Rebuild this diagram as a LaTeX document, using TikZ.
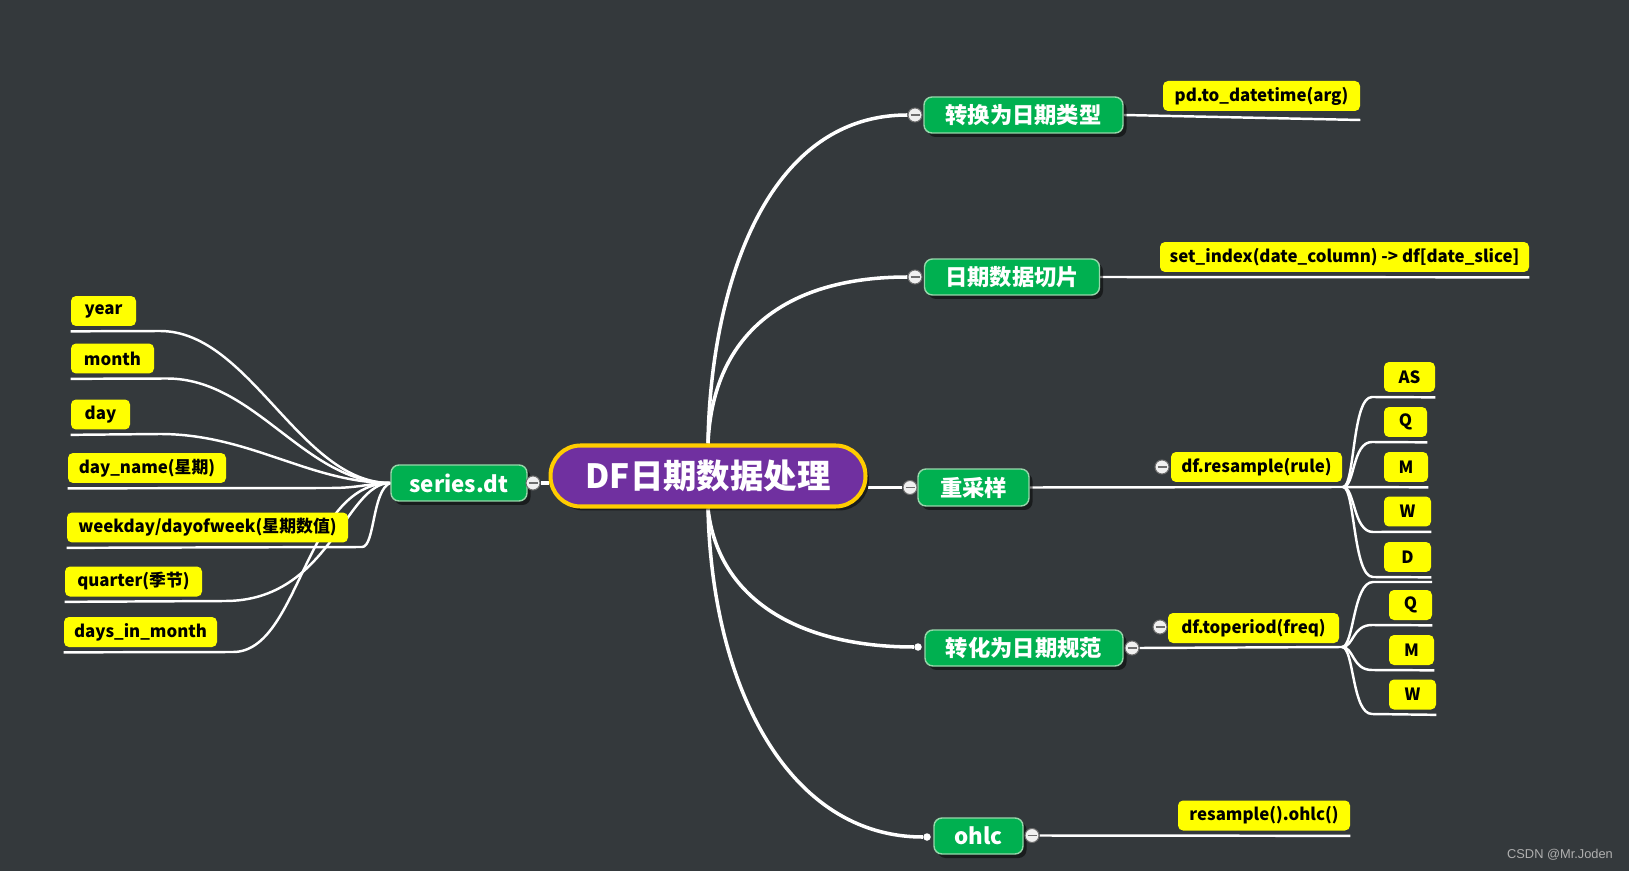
\documentclass[tikz,border=0pt]{standalone}
\usepackage{fontspec}
\setmainfont{Noto Sans CJK SC}
\newfontfamily\wmfont{Liberation Sans}
\usepackage{tikz}
\usetikzlibrary{shadows}

\definecolor{bgdark}{RGB}{52,57,60}
\definecolor{rootpurple}{RGB}{112,48,160}
\definecolor{rootgold}{RGB}{255,204,0}
\definecolor{topicgreen}{RGB}{0,176,80}
\definecolor{topicedge}{RGB}{150,215,170}
\definecolor{leafyellow}{RGB}{255,255,0}
\definecolor{foldgray}{RGB}{110,110,110}
\definecolor{wmgray}{RGB}{175,175,175}

\pgfdeclarelayer{canvas}
\pgfdeclarelayer{wires}
\pgfsetlayers{canvas,wires,main}

\tikzset{
    rootbox/.style={draw=rootgold, line width=2.3pt, fill=rootpurple, rounded corners=0.6cm,
        text=white, font=\fontsize{19}{19}\selectfont\bfseries,
        minimum width=6.3cm, minimum height=1.22cm, inner sep=0pt,
        drop shadow={shadow xshift=0.07cm, shadow yshift=-0.08cm, opacity=0.5, fill=black}},
    topicbox/.style={draw=topicedge, line width=0.8pt, fill=topicgreen, rounded corners=0.16cm,
        text=white, font=\fontsize{12.7}{13}\selectfont\bfseries,
        minimum height=0.72cm, inner sep=0pt,
        drop shadow={shadow xshift=0.07cm, shadow yshift=-0.08cm, opacity=0.5, fill=black}},
    leafbox/.style={fill=leafyellow, rounded corners=0.1cm, text=black,
        font=\fontsize{9.6}{10}\selectfont\bfseries, minimum height=0.6cm, inner sep=0pt},
    wd/.style={minimum width=#1*0.02cm},
    foldmark/.style={circle, draw=foldgray, line width=0.6pt, fill=white!88!gray,
        minimum size=0.28cm, inner sep=0pt,
        path picture={\draw[foldgray, line width=1pt]
            ([xshift=-0.09cm]path picture bounding box.center) --
            ([xshift=0.09cm]path picture bounding box.center);}},
    joint/.style={circle, fill=white, minimum size=0.15cm, inner sep=0pt},
    mainline/.style={draw=white, line width=2pt},
    subline/.style={draw=white, line width=1.4pt},
}

\begin{document}
\begin{tikzpicture}[x=0.02cm, y=-0.02cm]
    \begin{pgfonlayer}{canvas}
        \fill[bgdark] (0,0) rectangle (1629,871);
    \end{pgfonlayer}

    % centre and topics
    \node[rootbox] (root) at (708,476) {DF日期数据处理};
    \node[topicbox, wd=136] (sdt) at (459,483) {series.dt};
    \node[topicbox, wd=199] (t1) at (1023.5,115) {转换为日期类型};
    \node[topicbox, wd=175] (t2) at (1012,277) {日期数据切片};
    \node[topicbox, wd=111, minimum height=0.74cm] (t3) at (973.5,487.5) {重采样};
    \node[topicbox, wd=198] (t4) at (1024,648) {转化为日期规范};
    \node[topicbox, wd=89] (t5) at (978.5,836) {ohlc};

    % right leaves
    \node[leafbox, wd=197] (l1) at (1261.5,96) {pd.to\_datetime(arg)};
    \node[leafbox, wd=369] (l2) at (1344.5,257) {set\_index(date\_column) -> df[date\_slice]};
    \node[leafbox, wd=171] (rs) at (1256.5,467) {df.resample(rule)};
    \node[leafbox, wd=51] (as) at (1409.5,377) {AS};
    \node[leafbox, wd=43] (rq) at (1405.5,422) {Q};
    \node[leafbox, wd=44] (rm) at (1406,467) {M};
    \node[leafbox, wd=47] (rw) at (1407.5,511.5) {W};
    \node[leafbox, wd=47] (rd) at (1407.5,557) {D};
    \node[leafbox, wd=171] (tp) at (1253.5,628) {df.toperiod(freq)};
    \node[leafbox, wd=43] (pq) at (1410.5,605) {Q};
    \node[leafbox, wd=45] (pm) at (1411.5,650) {M};
    \node[leafbox, wd=47] (pw) at (1412.5,694.5) {W};
    \node[leafbox, wd=172] (l5) at (1264,815.5) {resample().ohlc()};

    % left leaves
    \node[leafbox, wd=65] (yr) at (103.5,311) {year};
    \node[leafbox, wd=83] (mo) at (112.5,358.5) {month};
    \node[leafbox, wd=59] (dy) at (100.5,414.5) {day};
    \node[leafbox, wd=158] (dn) at (147,468) {day\_name(星期)};
    \node[leafbox, wd=281] (wk) at (207.5,527.5) {weekday/dayofweek(星期数值)};
    \node[leafbox, wd=137] (qt) at (133.5,581.5) {quarter(季节)};
    \node[leafbox, wd=153] (dm) at (140.5,632) {days\_in\_month};

    % fold marks and joints
    \node[foldmark] (f1) at (915,115) {};
    \node[foldmark] (f2) at (915,277) {};
    \node[foldmark] (f3) at (910,487.5) {};
    \node[foldmark] (fs) at (533,483) {};
    \node[foldmark] (f4r) at (1132,648) {};
    \node[foldmark] (f5r) at (1032,835.5) {};
    \node[foldmark] (fr) at (1162,467) {};
    \node[foldmark] (ft) at (1160,627) {};
    \node[joint] (d4) at (918,647) {};
    \node[joint] (d5) at (927,837) {};
    \coordinate (rsb) at (1343,487);
    \coordinate (tpb) at (1342,647);
    \coordinate (tpx) at (1432,582);

    \begin{pgfonlayer}{wires}
    % centre to topics
    \draw[mainline] (root.north) .. controls (710,300) and (760,115) .. (f1.west);
    \draw[mainline] (root.north) .. controls (713,330) and (790,277) .. (f2.west);
    \draw[mainline] (root.east |- f3.west) -- (f3.west);
    \draw[mainline] (root.south) .. controls (718,600) and (800,647) .. (d4);
    \draw[mainline] (root.south) .. controls (712,690) and (790,837) .. (d5);
    \draw[mainline] (root.west |- fs.east) -- (fs.east);

    % topics to leaves
    \draw[subline] (t1.east) -- ([yshift=-0.1cm]l1.south east |- t1.east);
    \draw[subline] (t2.east) -- ([yshift=-0.1cm]l2.south east);
    \draw[subline] (t3.east) -- (rsb) -- ([yshift=-0.1cm]rm.south east);
    \draw[subline] (rsb) .. controls (1355,487) and (1352,397) .. (1372,397) -- ([yshift=-0.1cm]as.south east);
    \draw[subline] (rsb) .. controls (1355,487) and (1352,442) .. (1372,442) -- ([yshift=-0.1cm]rq.south east);
    \draw[subline] (rsb) .. controls (1355,487) and (1353,532) .. (1373,532) -- ([yshift=-0.1cm]rw.south east);
    \draw[subline] (rsb) .. controls (1355,487) and (1353,577) .. (1373,577) -- ([yshift=-0.1cm]rd.south east);
    \draw[subline] (f4r.east) -- (tpb);
    \draw[subline] (tpb) .. controls (1354,647) and (1353,582) .. (1373,582) -- (tpx);
    \draw[subline] (tpb) .. controls (1354,647) and (1352,625) .. (1372,625) -- ([yshift=-0.1cm]pq.south east);
    \draw[subline] (tpb) .. controls (1354,647) and (1352,670) .. (1372,670) -- ([yshift=-0.1cm]pm.south east);
    \draw[subline] (tpb) .. controls (1354,647) and (1352,714) .. (1372,714) -- ([yshift=-0.1cm]pw.south east);
    \draw[subline] (f5r.east) -- ([yshift=-0.1cm]l5.south east);

    % series.dt to its leaves
    \draw[subline] (sdt.west) .. controls (300,483) and (250,331) .. (160,331) -- ([yshift=-0.1cm]yr.south west);
    \draw[subline] (sdt.west) .. controls (305,483) and (255,378.5) .. (167,378.5) -- ([yshift=-0.1cm]mo.south west);
    \draw[subline] (sdt.west) .. controls (310,483) and (250,434) .. (160,434) -- ([yshift=-0.1cm]dy.south west);
    \draw[subline] (sdt.west) .. controls (370,483) and (360,488) .. (330,488) -- ([yshift=-0.1cm]dn.south west);
    \draw[subline] (sdt.west) .. controls (372,490) and (375,547) .. (362,547) -- ([yshift=-0.1cm]wk.south west);
    \draw[subline] (sdt.west) .. controls (345,483) and (330,601) .. (225,601) -- ([yshift=-0.1cm]qt.south west);
    \draw[subline] (sdt.west) .. controls (305,483) and (300,652) .. (233,652) -- ([yshift=-0.1cm]dm.south west);
    \end{pgfonlayer}

    \node[text=wmgray, font=\wmfont\fontsize{7.3}{8}\selectfont] (wm) at (1560,855) {CSDN @Mr.Joden};
\end{tikzpicture}
\end{document}
